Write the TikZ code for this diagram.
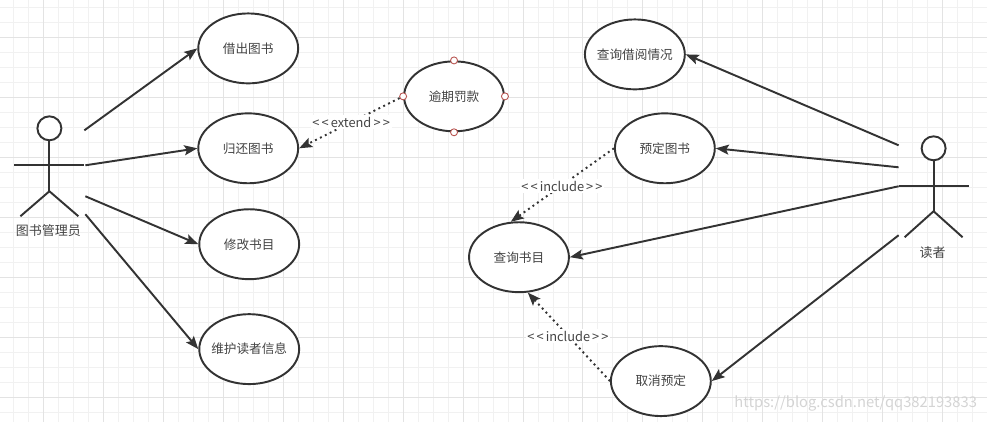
\documentclass[tikz,border=0pt]{standalone}
\usepackage{fontspec}
\setmainfont{Noto Sans CJK SC}
\usetikzlibrary{positioning}
\usetikzlibrary{shapes.geometric}
\usetikzlibrary{arrows.meta}
\definecolor{inkgray}{HTML}{333333}
\definecolor{textgray}{HTML}{444444}
\definecolor{gridminor}{HTML}{F1F1F1}
\definecolor{gridmajor}{HTML}{E3E3E3}
\definecolor{handlered}{HTML}{B85450}

\begin{document}
\begin{tikzpicture}[x=0.02cm,y=-0.02cm]
\pgfmathsetmacro{\WPIC}{987}
\pgfmathsetmacro{\HPIC}{422}

\tikzset{
  usecase/.style={draw=inkgray, ellipse, line width=1.1pt, fill=white, text=textgray, font=\fontsize{7.2}{9}\selectfont, minimum width=2cm, minimum height=1.4cm, inner xsep=-0.2cm, inner ysep=0pt},
  actorhead/.style={draw=inkgray, circle, line width=1.1pt, fill=white, minimum size=0.48cm, inner sep=0pt},
  limb/.style={draw=inkgray, line width=1.1pt},
  actorname/.style={text=textgray, font=\fontsize{7.4}{9}\selectfont, inner sep=0pt},
  handle/.style={draw=handlered, circle, fill=white, line width=0.5pt, minimum size=0.14cm, inner sep=0pt},
  assoc/.style={-{Stealth[length=0.26cm,width=0.2cm,inset=0.05cm]}, draw=inkgray, line width=1.1pt},
  dep/.style={assoc, dotted},
  deplabel/.style={fill=white, text=textgray, font=\fontsize{7.3}{9}\selectfont, inner sep=1pt},
}

% grid
\fill[white] (0, 0) rectangle (\WPIC, \HPIC);
\foreach \x in {13, 28, ..., 987} {\draw[gridminor, line width=0.5pt] (\x, 0) -- (\x, \HPIC);}
\foreach \y in {7, 22, ..., 422} {\draw[gridminor, line width=0.5pt] (0, \y) -- (\WPIC, \y);}
\foreach \x in {43, 103, ..., 987} {\draw[gridmajor, line width=0.5pt] (\x, 0) -- (\x, \HPIC);}
\foreach \y in {37, 97, ..., 422} {\draw[gridmajor, line width=0.5pt] (0, \y) -- (\WPIC, \y);}
\useasboundingbox (0, 0) rectangle (\WPIC, \HPIC);

% use cases
\node[usecase] (lend) at (248, 48) {借出图书};
\node[usecase] (back) at (248, 148) {归还图书};
\node[usecase] (edit) at (249, 244) {修改书目};
\node[usecase] (info) at (249, 349) {维护读者信息};
\node[usecase] (fine) at (454, 96) {逾期罚款};
\node[usecase] (status) at (635, 54) {查询借阅情况};
\node[usecase] (reserve) at (665, 148) {预定图书};
\node[usecase] (search) at (519, 257) {查询书目};
\node[usecase] (cancel) at (661, 381) {取消预定};

\node[handle] (finew) at (fine.west) {};
\node[handle] (finee) at (fine.east) {};
\node[handle] (finen) at (fine.north) {};
\node[handle] (fines) at (fine.south) {};

% librarian
\node[actorhead] (libhead) at (49, 128) {};
\coordinate (libhip) at (49, 191);
\coordinate (libarml) at (14, 165);
\coordinate (libarmr) at (84, 165);
\coordinate (liblegl) at (20, 216);
\coordinate (liblegr) at (78, 216);
\draw[limb] (libhead) -- (libhip);
\draw[limb] (libarml) -- (libarmr);
\draw[limb] (liblegl) -- (libhip) -- (liblegr);
\node[actorname] (libname) at (48, 230) {图书管理员};

% reader
\node[actorhead] (readhead) at (934, 148) {};
\coordinate (readhip) at (934, 211);
\coordinate (readarml) at (899, 186);
\coordinate (readarmr) at (969, 186);
\coordinate (readlegl) at (905, 237);
\coordinate (readlegr) at (963, 237);
\draw[limb] (readhead) -- (readhip);
\draw[limb] (readarml) -- (readarmr);
\draw[limb] (readlegl) -- (readhip) -- (readlegr);
\node[actorname] (readname) at (933, 252) {读者};

% free ends
\coordinate (lib1) at (84, 130);
\coordinate (lib2) at (85, 165);
\coordinate (lib3) at (85, 196);
\coordinate (lib4) at (85, 214);
\coordinate (read1) at (899, 145);
\coordinate (read2) at (899, 167);
\coordinate (read3) at (899, 186);
\coordinate (read4) at (899, 235);

\draw[assoc] (lib1) -- (lend.west);
\draw[assoc] (lib2) -- (back.west);
\draw[assoc] (lib3) -- (edit.west);
\draw[assoc] (lib4) -- (info.west);
\draw[assoc] (read1) -- (status.east);
\draw[assoc] (read2) -- (reserve.east);
\draw[assoc] (read3) -- (search.east);
\draw[assoc] (read4) -- (cancel.east);

\draw[dep] (finew) -- (back.east);
\draw[dep] (reserve.west) -- (search.103);
\draw[dep] (cancel.west) -- (search.284);

\node[deplabel] (extend) at (351, 122) {<\,<\,extend\,>\,>};
\node[deplabel] (incl1) at (562, 186) {<\,<\,include\,>\,>};
\node[deplabel] (incl2) at (568, 336) {<\,<\,include\,>\,>};

% watermark
\node[text=black!17, font=\fontsize{8.4}{10}\selectfont, inner sep=0pt] (mark) at (856, 403) {https://blog.csdn.net/qq382193833};
\end{tikzpicture}
\end{document}
